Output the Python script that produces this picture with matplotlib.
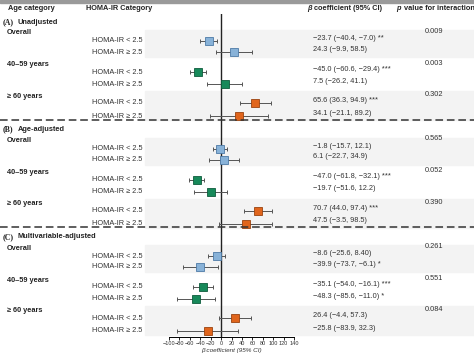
import matplotlib
matplotlib.use("Agg")
import matplotlib.pyplot as plt
import matplotlib.transforms as mtransforms

plt.rcParams['font.family'] = ['Liberation Sans', 'DejaVu Sans']

# data
sections = ["Unadjusted", "Age-adjusted", "Multivariable-adjusted"]
letters = ["(A)", "(B)", "(C)"]
groups = ["Overall", "40\u201359 years", "\u2265 60 years"]
homa = ["HOMA-IR < 2.5", "HOMA-IR \u2265 2.5"]

# per section: [overall<, overall>=, 40-59<, 40-59>=, 60<, 60>=]
beta = [[-23.7, 24.3, -45.0, 7.5, 65.6, 34.1],
        [-1.8, 6.1, -47.0, -19.7, 70.7, 47.5],
        [-8.6, -39.9, -35.1, -48.3, 26.4, -25.8]]
lo = [[-40.4, -9.9, -60.6, -26.2, 36.3, -21.1],
      [-15.7, -22.7, -61.8, -51.6, 44.0, -3.5],
      [-25.6, -73.7, -54.0, -85.6, -4.4, -83.9]]
hi = [[-7.0, 58.5, -29.4, 41.1, 94.9, 89.2],
      [12.1, 34.9, -32.1, 12.2, 97.4, 98.5],
      [8.40, -6.1, -16.1, -11.0, 57.3, 32.3]]
ci_txt = [["\u221223.7 (\u221240.4, \u22127.0) **", "24.3 (\u22129.9, 58.5)",
           "\u221245.0 (\u221260.6, \u221229.4) ***", "7.5 (\u221226.2, 41.1)",
           "65.6 (36.3, 94.9) ***", "34.1 (\u221221.1, 89.2)"],
          ["\u22121.8 (\u221215.7, 12.1)", "6.1 (\u221222.7, 34.9)",
           "\u221247.0 (\u221261.8, \u221232.1) ***", "\u221219.7 (\u221251.6, 12.2)",
           "70.7 (44.0, 97.4) ***", "47.5 (\u22123.5, 98.5)"],
          ["\u22128.6 (\u221225.6, 8.40)", "\u221239.9 (\u221273.7, \u22126.1) *",
           "\u221235.1 (\u221254.0, \u221216.1) ***", "\u221248.3 (\u221285.6, \u221211.0) *",
           "26.4 (\u22124.4, 57.3)", "\u221225.8 (\u221283.9, 32.3)"]]
pvals = [["0.009", "0.003", "0.302"],
         ["0.565", "0.052", "0.390"],
         ["0.261", "0.551", "0.084"]]

face = ["#88b2d8", "#17895a", "#e0651c"]
edge = ["#4d7aa6", "#0e5c3c", "#9a420f"]

W, H = 474, 355
fig = plt.figure(figsize=(W / 100, H / 100), dpi=100)
ax = fig.add_axes([169 / W, 18 / H, 125 / W, 323 / H])
ax.set_xlim(-100, 140)
ax.set_ylim(337, 14)

tr = mtransforms.blended_transform_factory(fig.transFigure, ax.transData)
fx = lambda px: px / W
fs = 5.3
txtc = "#222222"

# header
fig.patches.append(plt.Rectangle((0, 1 - 2.5 / H), 1, 2.5 / H, transform=fig.transFigure,
                                 color="#9a9a9a", zorder=0))
hy = 1 - 9 / H
fig.text(fx(8), hy, "Age category", fontsize=fs, weight="bold", va="center", color=txtc)
fig.text(fx(86), hy, "HOMA-IR Category", fontsize=fs, weight="bold", va="center", color=txtc)
fig.text(fx(307), hy, "\u03b2", fontsize=fs, weight="bold", style="italic", va="center", color=txtc)
fig.text(fx(314.5), hy, "coefficient (95% CI)", fontsize=fs, weight="bold", va="center", color=txtc)
fig.text(fx(396), hy, "p", fontsize=fs, weight="bold", style="italic", va="center", color=txtc)
fig.text(fx(403.5), hy, "value for interaction", fontsize=fs, weight="bold", va="center", color=txtc)

group_off = [11, 43, 74]
row_off = [19, 30, 50, 62, 81, 94]
bases = [22, 129.5, 237]

for s in range(3):
    t = bases[s]
    # shaded bands
    for y0, y1 in [(t + 8, t + 35), (t + 69, t + 98)]:
        ax.add_patch(plt.Rectangle((fx(145), y0), 1 - fx(145), y1 - y0, transform=tr,
                                   color="#f3f3f3", zorder=0, clip_on=False))
    ax.text(fx(3), t, letters[s], transform=tr, fontsize=fs + 0.3, weight="bold",
            family="Liberation Serif", va="center", color=txtc)
    ax.text(fx(18), t, sections[s], transform=tr, fontsize=fs, weight="bold",
            va="center", color=txtc)
    for g in range(3):
        gy = t + group_off[g]
        ax.text(fx(7), gy, groups[g], transform=tr, fontsize=fs, weight="bold",
                va="center", color=txtc)
        ax.text(fx(425), gy - 1.5, pvals[s][g], transform=tr, fontsize=fs,
                va="center", color="#333333")
        for k in range(2):
            i = g * 2 + k
            y = t + row_off[i]
            ax.text(fx(92), y, homa[k], transform=tr, fontsize=fs, va="center", color="#333333")
            ax.text(fx(313), y - 2.5, ci_txt[s][i], transform=tr, fontsize=fs, va="center",
                    color="#333333")
            b = beta[s][i]
            ax.errorbar(b, y, xerr=[[b - lo[s][i]], [hi[s][i] - b]], fmt="none",
                        ecolor="#555555", elinewidth=0.7, capsize=1.3, capthick=0.7, zorder=2)
            ax.plot(b, y, marker="s", ms=5.6, mfc=face[g], mec=edge[g], mew=0.6,
                    zorder=3, clip_on=False)
    if s < 2:
        ax.plot([0, 1], [t + 97.5, t + 97.5], transform=tr, color="#333333", lw=1.1,
                ls=(0, (5, 2.5)), clip_on=False, zorder=4)

ax.axvline(0, color="#222222", lw=1.0, zorder=1)

for sp in ["left", "right", "top"]:
    ax.spines[sp].set_visible(False)
ax.spines["bottom"].set_bounds(-100, 140)
ax.spines["bottom"].set_linewidth(0.7)
ax.set_yticks([])
ticks = list(range(-100, 141, 20))
ax.set_xticks(ticks)
ax.set_xticklabels([str(v).replace("-", "\u2212") for v in ticks], fontsize=4.0, color="#333333")
ax.tick_params(axis="x", length=2, width=0.6, pad=1)
ax.set_xlabel("\u03b2 coefficient (95% CI)", fontsize=4.6, style="italic", labelpad=1.5,
              color="#333333")
ax.patch.set_alpha(0)

fig.savefig("out.png", dpi=100)
